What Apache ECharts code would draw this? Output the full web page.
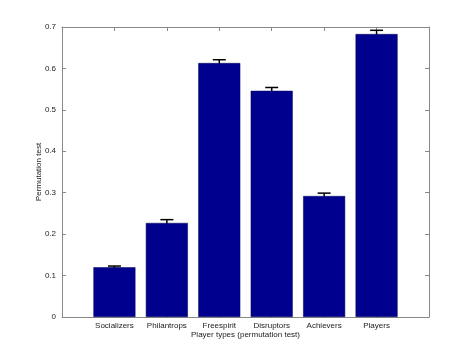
<!DOCTYPE html>
<html><head><meta charset="utf-8">
<script src="https://cdn.jsdelivr.net/npm/echarts@6/dist/echarts.min.js"></script>
<style>html,body{margin:0;padding:0;background:#fff}#c{width:474px;height:357px}</style>
</head><body><div id="c"></div>
<script>
var categories = ['Socializers','Philantrops','Freespirit','Disruptors','Achievers','Players'];
var values = [0.120, 0.227, 0.613, 0.546, 0.292, 0.683];
var errors = [0.003, 0.008, 0.008, 0.008, 0.007, 0.009];
var yTicks = [0, 0.1, 0.2, 0.3, 0.4, 0.5, 0.6, 0.7];

var font = 'Liberation Sans, Arial, sans-serif';
var barData = values.map(function(v,i){return [i+1, v];});
var errData = values.map(function(v,i){return [i+1, v-errors[i], v+errors[i]];});
var chart = echarts.init(document.getElementById('c'));
var axisLine = {show:true, onZero:false, lineStyle:{color:'#888', width:1}};
var tick = {show:true, inside:true, length:4, lineStyle:{color:'#888'}};
chart.setOption({
  animation:false,
  grid:{left:62, top:27, right:45, bottom:40},
  xAxis:[{
    type:'value', min:0, max:7, interval:1, position:'bottom',
    axisLine:axisLine, splitLine:{show:false}, axisTick:tick,
    axisLabel:{fontSize:8, fontFamily:font, color:'#222', margin:5,
      formatter:function(v){return (v>=1&&v<=6)?categories[v-1]:'';}},
    name:'Player types (permutation test)', nameLocation:'middle', nameGap:14, nameMoveOverlap:false,
    nameTextStyle:{fontSize:8, fontFamily:font, color:'#222', verticalAlign:'top'}
  },{
    type:'value', min:0, max:7, interval:1, position:'top',
    axisLine:axisLine, splitLine:{show:false}, axisTick:tick,
    axisLabel:{show:false}
  }],
  yAxis:[{
    type:'value', min:0, max:0.7, interval:0.1, position:'left',
    axisLine:axisLine, splitLine:{show:false}, axisTick:tick,
    axisLabel:{fontSize:8, fontFamily:font, color:'#222', margin:6,
      formatter:function(v){var r=Math.round(v*10)/10; return yTicks.indexOf(r)>=0 ? String(r) : '';}},
    name:'Permutation test', nameLocation:'middle', nameGap:19, nameMoveOverlap:false,
    nameTextStyle:{fontSize:8, fontFamily:font, color:'#222', verticalAlign:'bottom'}
  },{
    type:'value', min:0, max:0.7, interval:0.1, position:'right',
    axisLine:axisLine, splitLine:{show:false}, axisTick:tick,
    axisLabel:{show:false}
  }],
  series:[{
    type:'bar', data:barData, barWidth:42,
    itemStyle:{color:'#00008F', borderColor:'#000050', borderWidth:0.5}
  },{
    type:'custom', data:errData,
    renderItem:function(params, api){
      var x = api.value(0);
      var lo = api.coord([x, api.value(1)]);
      var hi = api.coord([x, api.value(2)]);
      var hw = 6.5;
      var st = {stroke:'#000', lineWidth:1.5};
      return {type:'group', children:[
        {type:'line', shape:{x1:lo[0],y1:lo[1],x2:hi[0],y2:hi[1]}, style:st},
        {type:'line', shape:{x1:lo[0]-hw,y1:lo[1],x2:lo[0]+hw,y2:lo[1]}, style:st},
        {type:'line', shape:{x1:hi[0]-hw,y1:hi[1],x2:hi[0]+hw,y2:hi[1]}, style:st}
      ]};
    }
  }]
});
</script></body></html>
